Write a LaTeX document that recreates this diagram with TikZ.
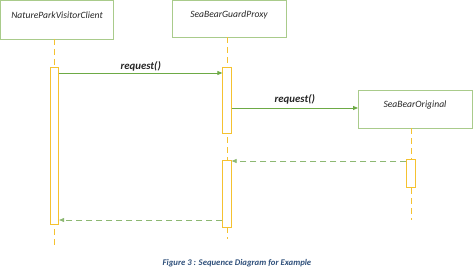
\documentclass[tikz,border=0pt]{standalone}
\usepackage{fontspec}
\setmainfont{Carlito}
\usetikzlibrary{arrows.meta}
\definecolor{boxgreen}{HTML}{A9CB8B}
\definecolor{lifeyellow}{HTML}{F5C230}
\definecolor{arrgreen}{HTML}{6DAA45}
\definecolor{retgreen}{HTML}{8DB873}
\definecolor{capblue}{HTML}{2E4F7A}
\tikzset{
  x=1pt,y=-1pt,
  obj/.style={inner sep=0pt,font=\itshape\fontsize{9.6}{11}\selectfont,text=black!85},
  act/.style={draw=lifeyellow,line width=0.8pt,fill=white},
  life/.style={draw=lifeyellow,line width=1pt,dash pattern=on 6pt off 4pt},
  msg/.style={draw=arrgreen,line width=0.8pt,-{Triangle[length=5pt,width=4pt]}},
  ret/.style={draw=retgreen,line width=0.8pt,dash pattern=on 6pt off 4pt,-{Triangle[length=5pt,width=4pt]}},
  lbl/.style={font=\bfseries\itshape\fontsize{10.8}{12}\selectfont,text=black!85,inner sep=1pt},
}
\begin{document}
\begin{tikzpicture}
\useasboundingbox (0,0) rectangle (474,278);
% objects
\draw[boxgreen,line width=0.8pt] (0.5,0.5) rectangle (113,39);
\node[obj] (c) at (57,15) {NatureParkVisitorClient};
\draw[boxgreen,line width=0.8pt] (172,0.5) rectangle (286,37);
\node[obj] (p) at (229,15) {SeaBearGuardProxy};
\draw[boxgreen,line width=0.8pt] (358,90) rectangle (472,128);
\node[obj] (o) at (415,105) {SeaBearOriginal};
% lifelines
\coordinate (c0) at (54.5,39);
\coordinate (c1) at (54.5,248);
\coordinate (p0) at (227,37);
\coordinate (p1) at (227,239);
\coordinate (o0) at (411,128);
\coordinate (o1) at (411,220);
\draw[life] (c0) -- (c1);
\draw[life] (p0) -- (p1);
\draw[life] (o0) -- (o1);
% activations
\node[act,minimum width=8.5pt,minimum height=157pt,inner sep=0pt] (ca) at (54.5,145.5) {};
\node[act,minimum width=8.5pt,minimum height=66pt,inner sep=0pt] (pa) at (227,100) {};
\node[act,minimum width=8.5pt,minimum height=67pt,inner sep=0pt] (pb) at (227,193.5) {};
\node[act,minimum width=8.5pt,minimum height=28pt,inner sep=0pt] (oa) at (411,173) {};
% messages
\coordinate (m1s) at (ca.east |- 0,73);
\coordinate (m1e) at (pa.west |- 0,73);
\draw[msg] (m1s) -- node[lbl,above] {request()} (m1e);
\coordinate (m2s) at (pa.east |- 0,108);
\coordinate (m2e) at (358,108);
\draw[msg] (m2s) -- node[lbl,above,yshift=2pt] {request()} (m2e);
\coordinate (r1s) at (oa.west |- 0,161);
\coordinate (r1e) at (pb.east |- 0,161);
\draw[ret] (r1s) -- (r1e);
\coordinate (r2s) at (pb.west |- 0,220);
\coordinate (r2e) at (ca.east |- 0,220);
\draw[ret] (r2s) -- (r2e);
% caption
\node[font=\bfseries\itshape\fontsize{8.7}{10}\selectfont,text=capblue] (cap) at (237,263) {Figure 3 : Sequence Diagram for Example};
\end{tikzpicture}
\end{document}
